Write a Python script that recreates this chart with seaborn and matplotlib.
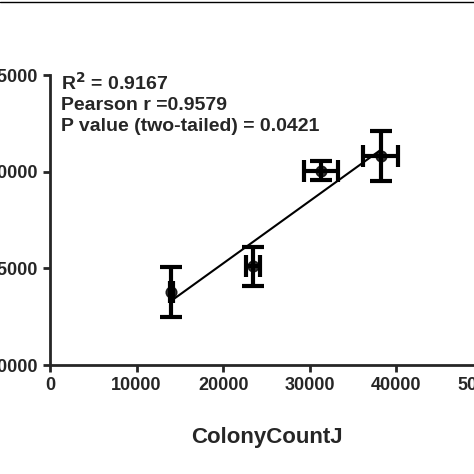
import matplotlib
matplotlib.use("Agg")
import matplotlib.pyplot as plt
import seaborn as sns
import numpy as np
import pandas as pd

# Values
colony_x = [14000, 23400, 31300, 38200]
colony_xerr = [200, 800, 2000, 2000]
other_y = [13760, 15100, 20050, 20800]
other_yerr = [1300, 1000, 500, 1300]
x_ticks = [0, 10000, 20000, 30000, 40000, 50000]
y_ticks = [10000, 15000, 20000, 25000]

sns.set_style("ticks")
plt.rcParams["font.family"] = ["Liberation Sans", "DejaVu Sans"]
plt.rcParams["font.weight"] = "bold"

df = pd.DataFrame({"x": colony_x, "y": other_y})

fig = plt.figure(figsize=(4.74, 4.74), dpi=100)
ax = fig.add_axes([50 / 474, 109 / 474, 433 / 474, 290 / 474])

sns.regplot(data=df, x="x", y="y", ci=None, truncate=True, ax=ax,
            scatter_kws={"s": 60, "color": "black"},
            line_kws={"color": "black", "lw": 1.5})
ax.errorbar(colony_x, other_y, xerr=colony_xerr, yerr=other_yerr, fmt="none",
            ecolor="black", elinewidth=3, capsize=8, capthick=3)

ax.set_xlim(0, 50000)
ax.set_ylim(10000, 25000)
ax.set_xticks(x_ticks)
ax.set_yticks(y_ticks)
ax.tick_params(labelsize=13, width=2, length=5)
for lab in ax.get_xticklabels() + ax.get_yticklabels():
    lab.set_fontweight("bold")
for s in ["left", "bottom"]:
    ax.spines[s].set_linewidth(2)
sns.despine(ax=ax)
ax.set_xlabel("ColonyCountJ", fontsize=16, fontweight="bold", labelpad=24)
ax.set_ylabel("")

ax.text(0.025, 1.01, "R$^2$ = 0.9167\nPearson r =0.9579\nP value (two-tailed) = 0.0421",
        transform=ax.transAxes, va="top", ha="left", fontsize=14,
        fontweight="bold", linespacing=1.25)

fig.add_artist(plt.Line2D([0, 1], [0.995, 0.995], color="black", lw=1))
fig.savefig("out.png", dpi=100)
